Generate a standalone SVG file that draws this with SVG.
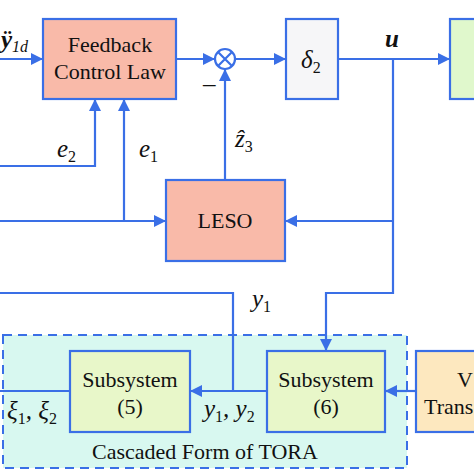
<svg xmlns="http://www.w3.org/2000/svg" width="474" height="474" viewBox="0 0 474 474">
<defs>
<style>
.ln{fill:none;stroke:#3a6fe6;stroke-width:2.2}
.bx{stroke:#3a6fe6;stroke-width:2.2}
.t{font-family:"Liberation Serif","DejaVu Serif",serif;font-size:22px;fill:#111}
.m{font-family:"Liberation Serif","DejaVu Serif",serif;font-style:italic;font-size:25px;fill:#111}
.s{font-size:16px;font-style:normal}
.si{font-size:16px}
</style>
<marker id="ah" viewBox="0 0 12 12" refX="12" refY="6" markerWidth="12" markerHeight="12" markerUnits="userSpaceOnUse" orient="auto">
<path d="M0,0 L12,6 L0,12 Z" fill="#3a6fe6"/>
</marker>
</defs>
<rect width="474" height="474" fill="#fff"/>

<g id="cascade">
<rect x="3" y="335" width="404" height="133" fill="#d8f8f0" stroke="#3a6fe6" stroke-width="2" stroke-dasharray="9,6"/>
<text class="t" x="205" y="459" text-anchor="middle">Cascaded Form of TORA</text>
</g>

<g id="fcl">
<rect class="bx" x="43" y="19" width="133" height="80" fill="#f9baa9"/>
<text class="t" x="110" y="52" text-anchor="middle">Feedback</text>
<text class="t" x="110" y="79" text-anchor="middle">Control Law</text>
</g>

<g id="sum">
<circle cx="225" cy="59" r="10" fill="#fff" stroke="#3a6fe6" stroke-width="2.2"/>
<path class="ln" d="M218,52 L232,66 M232,52 L218,66"/>
</g>

<g id="delta">
<rect class="bx" x="286" y="19" width="52" height="80" fill="#f6f6f8"/>
<text class="m" x="301" y="68" font-size="27">δ<tspan class="s" dy="5">2</tspan></text>
</g>

<g id="plant">
<rect class="bx" x="450" y="19" width="40" height="80" fill="#e0f8cc"/>
</g>

<g id="leso">
<rect class="bx" x="166" y="180" width="119" height="81" fill="#f9baa9"/>
<text class="t" x="225" y="228" text-anchor="middle">LESO</text>
</g>

<g id="sub5">
<rect class="bx" x="70" y="351" width="120" height="81" fill="#e8f7c9"/>
<text class="t" x="130" y="387" text-anchor="middle">Subsystem</text>
<text class="t" x="130" y="414" text-anchor="middle">(5)</text>
</g>

<g id="sub6">
<rect class="bx" x="267" y="351" width="118" height="81" fill="#e8f7c9"/>
<text class="t" x="326" y="387" text-anchor="middle">Subsystem</text>
<text class="t" x="326" y="414" text-anchor="middle">(6)</text>
</g>

<g id="transform">
<rect class="bx" x="416" y="351" width="80" height="81" fill="#fde8bf"/>
<text class="t" x="457" y="387" font-size="20">V</text>
<text class="t" x="424" y="414" font-size="20">Trans</text>
</g>

<g id="connectors">
<path class="ln" d="M0,59 H43" marker-end="url(#ah)"/>
<path class="ln" d="M176,59 H215" marker-end="url(#ah)"/>
<path class="ln" d="M235,59 H286" marker-end="url(#ah)"/>
<path class="ln" d="M338,59 H450" marker-end="url(#ah)"/>
<path class="ln" d="M225,180 V69" marker-end="url(#ah)"/>
<path class="ln" d="M0,166 H95 V99" marker-end="url(#ah)"/>
<path class="ln" d="M124,221 V99" marker-end="url(#ah)"/>
<path class="ln" d="M0,221 H166" marker-end="url(#ah)"/>
<path class="ln" d="M393,59 V293 H326 V351" marker-end="url(#ah)"/>
<path class="ln" d="M393,221 H285" marker-end="url(#ah)"/>
<path class="ln" d="M0,293 H233 V391"/>
<path class="ln" d="M267,391 H190" marker-end="url(#ah)"/>
<path class="ln" d="M0,391 H70"/>
<path class="ln" d="M416,391 H385" marker-end="url(#ah)"/>
</g>

<g id="labels">
<text class="m" x="1" y="48" font-weight="bold">ÿ<tspan class="si" font-weight="normal" dy="4">1d</tspan></text>
<text class="m" x="385" y="47" font-weight="bold">u</text>
<text class="m" x="203" y="92" font-style="normal">–</text>
<text class="m" x="57" y="157">e<tspan class="s" dy="5">2</tspan></text>
<text class="m" x="139" y="157">e<tspan class="s" dy="5">1</tspan></text>
<text class="m" x="235" y="147">ẑ<tspan class="s" dy="5">3</tspan></text>
<text class="m" x="252" y="307">y<tspan class="s" dy="5">1</tspan></text>
<text class="m" x="204" y="417">y<tspan class="s" dy="5">1</tspan><tspan dy="-5">, y</tspan><tspan class="s" dy="5">2</tspan></text>
<text class="m" x="7" y="419">ξ<tspan class="s" dy="5">1</tspan><tspan dy="-5">, ξ</tspan><tspan class="s" dy="5">2</tspan></text>
</g>
</svg>
